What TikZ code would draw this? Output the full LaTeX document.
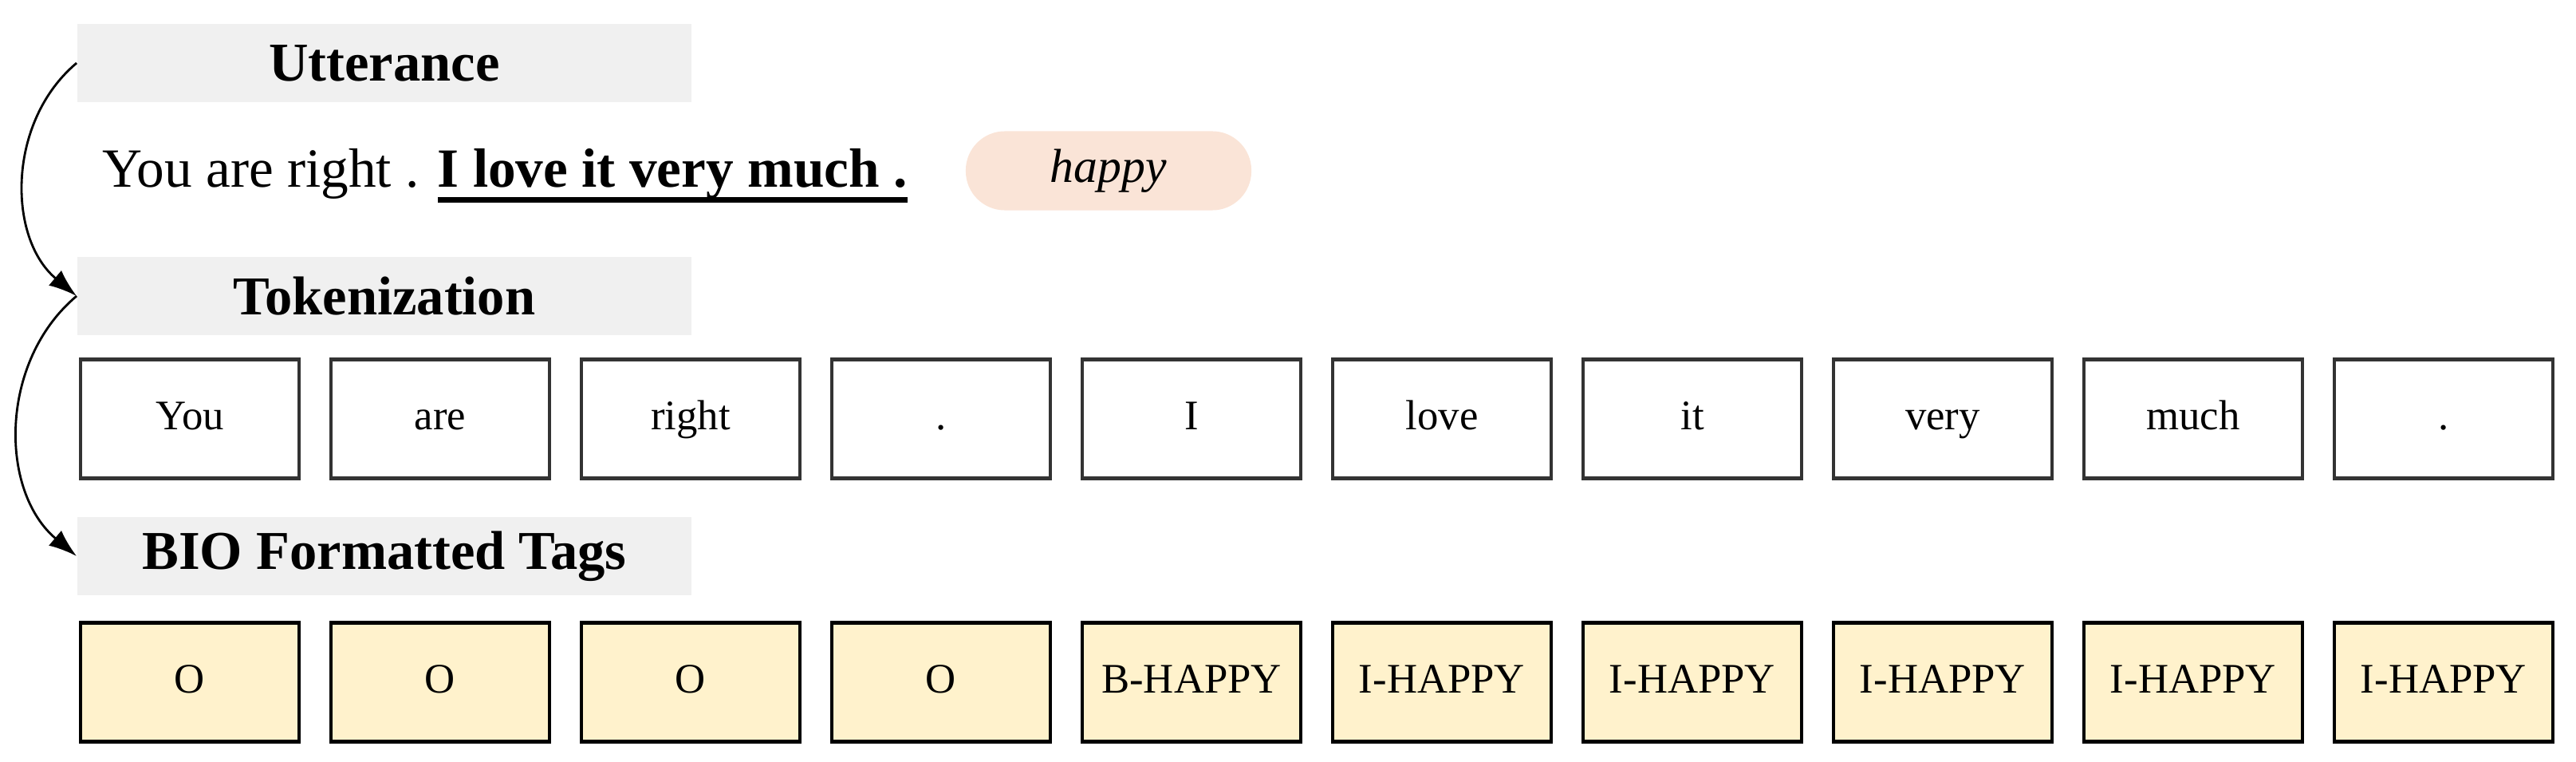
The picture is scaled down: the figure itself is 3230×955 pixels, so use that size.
\documentclass[tikz,border=0pt]{standalone}
\usepackage{fontspec}
\setmainfont{Liberation Serif}
\usepackage{tikz}
\usetikzlibrary{arrows.meta}

\definecolor{headgray}{HTML}{F0F0F0}
\definecolor{tagyellow}{HTML}{FFF2CC}
\definecolor{pillpeach}{HTML}{FAE4D7}
\definecolor{boxborder}{HTML}{333333}
\newcommand{\thickul}[1]{\setbox0\hbox{#1}\rlap{\rule[-5.5pt]{\wd0}{2pt}}\box0}

\begin{document}
\begin{tikzpicture}[x=0.01cm,y=-0.01cm,
        header/.style={fill=headgray,minimum width=7.7cm,minimum height=0.97cm,inner sep=0pt,font=\fontsize{19.5}{22}\selectfont\bfseries},
        tokbox/.style={draw=boxborder,line width=1.3pt,minimum width=2.74cm,minimum height=1.49cm,inner sep=0pt,text height=0.75em,text depth=0pt,font=\fontsize{15}{18}\selectfont},
        tagbox/.style={tokbox,draw=black,fill=tagyellow},
        pill/.style={fill=pillpeach,rounded corners=0.49cm,minimum width=3.58cm,minimum height=0.99cm,inner sep=0pt,font=\fontsize{17}{20}\selectfont\itshape},
        flow/.style={-{Latex[length=10pt,width=7pt]},line width=0.8pt,bend right=50}]
        \useasboundingbox (0,0) rectangle (3230,955);
        \node[header] (utt) at (482,79) {Utterance};
        \node[anchor=base west,inner sep=0pt,font=\fontsize{19.7}{22}\selectfont] (sent) at (128,235)
            {You are right . \thickul{\bfseries I love it very much .}};
        \node[pill] (emo) at (1390,214) {happy};
        \node[header] (tok) at (482,371) {Tokenization};
        \foreach \w [count=\i from 0] in {You,are,right,.,I,love,it,very,much,.}
            \node[tokbox] (t\i) at (238+314*\i,525) {\w};
        \node[header] (bio) at (482,697) {BIO Formatted Tags};
        \foreach \g [count=\i from 0] in {O,O,O,O,B-HAPPY,I-HAPPY,I-HAPPY,I-HAPPY,I-HAPPY,I-HAPPY}
            \node[tagbox] (g\i) at (238+314*\i,855) {\g};
        \draw[flow] (utt.west) to (tok.west);
        \draw[flow] (tok.west) to (bio.west);
    \end{tikzpicture}
\end{document}
